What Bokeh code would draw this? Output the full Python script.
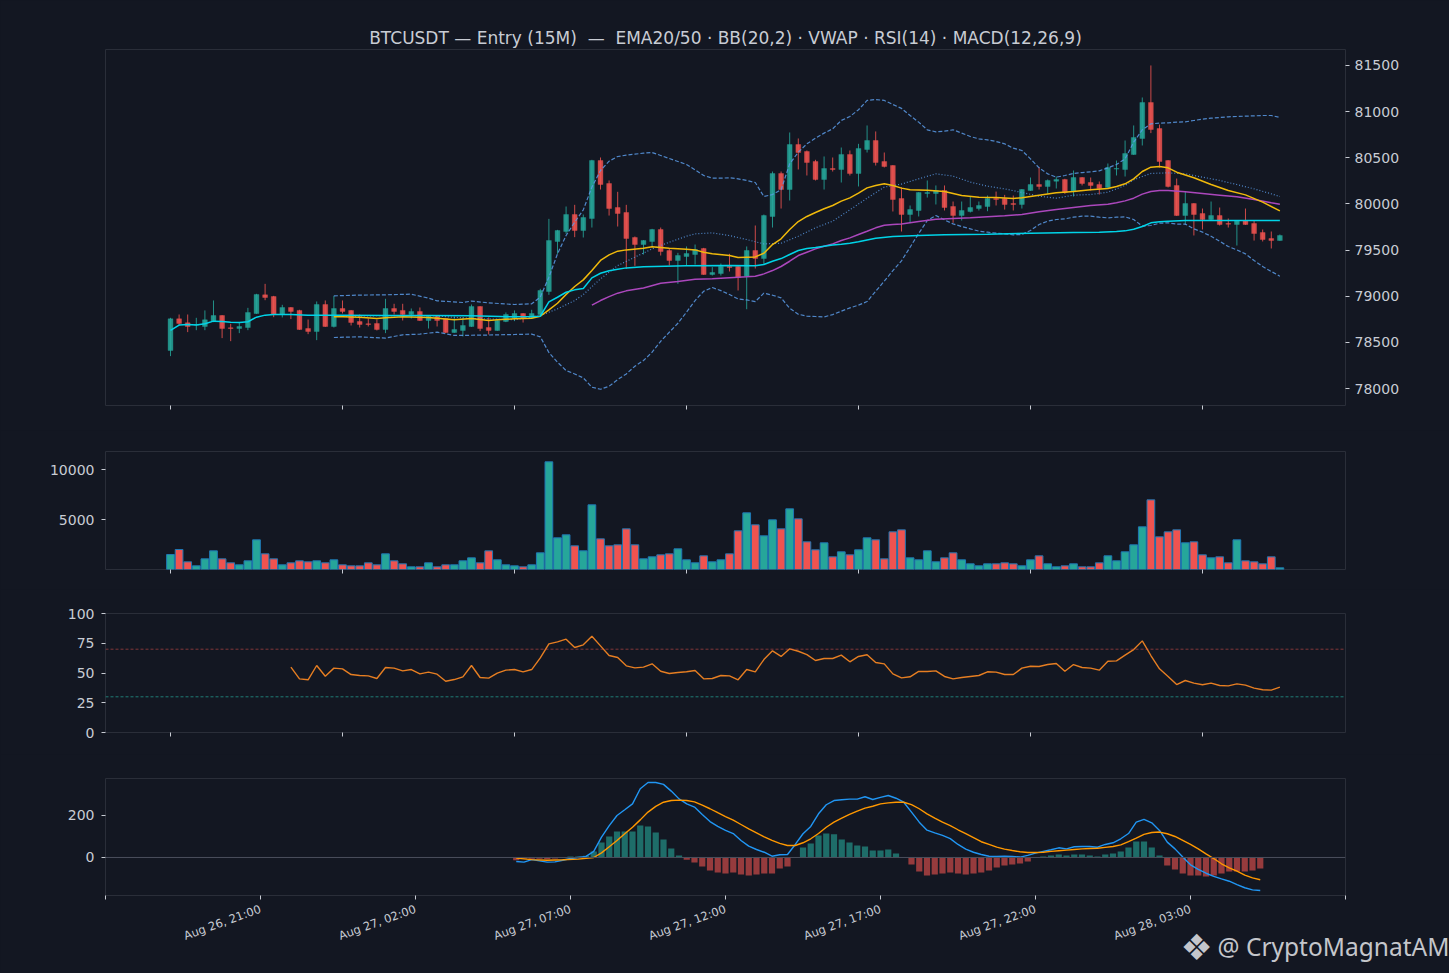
from bokeh.plotting import figure
from bokeh.layouts import column
from bokeh.models import Range1d, FixedTicker, Title, Span, Label
from bokeh.embed import file_html
from bokeh.resources import INLINE

TITLE = "BTCUSDT \u2014 Entry (15M)\u00a0\u00a0\u2014\u00a0\u00a0EMA20/50 \u00b7 BB(20,2) \u00b7 VWAP \u00b7 RSI(14) \u00b7 MACD(12,26,9)"
WATERMARK_LOGO = "\u2756"
WATERMARK = "@ CryptoMagnatAM"
TIME_LABELS = {0: "", 20: "Aug 26, 21:00", 40: "Aug 27, 02:00", 60: "Aug 27, 07:00", 80: "Aug 27, 12:00",
               100: "Aug 27, 17:00", 120: "Aug 27, 22:00", 140: "Aug 28, 03:00", 160: ""}

OPEN = [78412,78755,78712,78687,78672,78730,78791,78658,78650,78661,78813,79015,78997,78802,78878,78846,78650,78618,78910,78672,
        78867,78846,78726,78701,78705,78640,78867,78846,78802,78835,78737,78780,78759,78607,78629,78672,78889,78661,78629,78726,
        78766,78813,78766,78802,79051,79593,79701,79885,79712,79842,80470,80221,79961,79907,79636,79560,79593,79723,79495,79387,
        79430,79452,79517,79235,79246,79322,79322,79213,79495,79409,79864,80330,80156,80644,80568,80460,80265,80384,80373,80536,
        80330,80590,80687,80460,80416,80059,79885,79929,80113,80113,80145,79972,79874,79918,79950,79972,80059,80059,80004,79994,
        80145,80210,80189,80246,80265,80134,80286,80232,80210,80178,80377,80373,80535,80709,81099,80817,80470,80200,79874,80004,
        79896,79831,79874,79788,79777,79820,79788,79690,79625,79603]
HIGH = [78766,78802,78802,78766,78846,78954,78795,78701,78715,78874,79026,79134,79004,78907,78882,78853,78748,78943,78954,79004,
        78954,78850,78802,78759,78748,78972,78918,78918,78867,78878,78784,78784,78763,78780,78770,78910,78893,78770,78755,78824,
        78846,78817,78853,79080,79838,79719,79972,79990,79885,80478,80503,80254,80131,79990,79647,79608,79730,79744,79513,79470,
        79539,79560,79524,79315,79354,79459,79333,79539,79766,79885,80351,80351,80774,80709,80579,80478,80514,80503,80611,80579,
        80651,80850,80785,80557,80420,80181,79983,80128,80254,80200,80200,80026,80026,80080,80026,80091,80134,80098,80091,80160,
        80286,80398,80265,80297,80272,80362,80290,80286,80243,80438,80470,80687,80850,81153,81500,80860,80474,80275,80134,80008,
        79950,80026,79961,79842,79824,79950,79820,79723,79701,79669]
LOW = [78351,78683,78611,78632,78632,78719,78546,78513,78600,78632,78809,78957,78773,78770,78752,78636,78589,78524,78668,78661,
       78813,78683,78661,78672,78629,78600,78802,78737,78759,78733,78650,78672,78603,78603,78564,78668,78622,78585,78625,78719,
       78730,78715,78762,78791,79015,79459,79676,79640,79636,79744,80156,79874,79755,79297,79329,79452,79539,79441,79333,79134,
       79333,79343,79231,79224,79224,79268,79062,78859,79300,79343,79744,79950,80037,80373,80308,80254,80156,80351,80232,80308,
       80189,80557,80416,80395,79918,79701,79795,79864,80069,79994,79929,79795,79820,79907,79929,79921,79983,79939,79929,79950,
       80141,80156,80109,80167,80109,80080,80200,80145,80102,80174,80308,80297,80531,80633,80767,80395,80178,79870,79777,79658,
       79723,79820,79766,79744,79549,79773,79603,79593,79517,79600]
CLOSE = [78755,78705,78672,78694,78744,78791,78650,78650,78672,78824,79019,78986,78802,78878,78835,78640,78618,78910,78672,78867,
         78835,78715,78694,78694,78640,78867,78835,78802,78835,78737,78780,78737,78607,78640,78683,78889,78650,78629,78737,78802,
         78813,78759,78813,79062,79604,79712,79885,79712,79853,80470,80210,79950,79896,79625,79560,79604,79723,79484,79387,79441,
         79463,79506,79235,79257,79322,79311,79203,79495,79409,79874,80330,80156,80644,80557,80449,80265,80384,80373,80536,80330,
         80601,80687,80449,80405,80048,79885,79939,80124,80124,80145,79961,79874,79929,79961,79983,80059,80048,79994,79994,80156,
         80210,80189,80254,80265,80124,80286,80221,80200,80167,80395,80384,80546,80720,81099,80806,80460,80189,79874,80004,79885,
         79831,79874,79777,79781,79820,79777,79679,79614,79603,79658]
VOLUME = [1500,2000,767,367,1067,1867,1067,667,467,867,2967,1567,1067,467,667,867,767,867,667,967,
          467,367,367,667,467,1567,867,567,267,267,667,267,467,467,867,1167,667,1867,967,467,
          367,267,467,1667,10767,3167,3467,2367,1867,6467,3067,2367,2467,4067,2467,1067,1267,1467,1567,2067,
          967,667,1367,767,967,1567,3867,5667,4467,3367,4967,4067,6067,5067,2767,1967,2667,1267,1767,1467,
          1967,3167,2967,1067,3767,3967,1167,967,1867,767,1167,1667,967,567,367,567,567,667,567,367,
          967,1367,567,267,367,567,267,267,667,1367,867,1767,2467,4267,6967,3267,3767,3967,2667,2767,
          1467,1167,1267,667,2967,867,767,567,1267,167]

VWAP_X = [0,1,2,3,4,5,6,7,8,9,10,11,12,14,16,20,25,30,35,40,42,43,44,45,46,47,48,49,50,51,52,53,55,60,65,68,69,70,71,72,73,74,75,76,
          77,78,79,80,81,82,84,87,90,95,100,105,108,110,111,112,113,114,115,116,118,129]
VWAP = [78629,78687,78694,78687,78701,78730,78726,78719,78715,78723,78773,78795,78802,78802,78795,78795,78791,78791,78788,78777,78780,
        78783,78939,78989,79043,79069,79083,79199,79249,79275,79293,79307,79318,79329,79332,79329,79343,79379,79408,79452,79495,79517,
        79527,79542,79556,79564,79574,79589,79610,79629,79647,79657,79665,79672,79683,79690,79694,79701,79708,79726,79755,79795,79806,
        79813,79820,79820]
EMA20_X = [19,20,22,24,25,27,30,33,35,37,38,40,42,43,44,45,46,47,48,49,50,51,52,53,55,56,58,60,61,62,63,65,66,67,68,69,70,71,72,73,74,
           75,76,77,78,79,80,81,82,83,84,85,86,88,90,92,94,96,98,99,101,103,105,107,109,110,111,112,113,114,115,116,117,119,121,123,125,127,129]
EMA20 = [78777,78777,78773,78759,78766,78777,78770,78744,78759,78737,78744,78755,78762,78783,78852,78924,79018,79105,79177,79278,79387,
         79448,79488,79502,79520,79535,79520,79509,79502,79477,79459,79441,79419,79423,79426,79466,79560,79622,79723,79809,79864,79907,
         79947,79983,80030,80066,80116,80174,80200,80218,80200,80171,80153,80149,80134,80091,80073,80069,80059,80066,80095,80120,80134,
         80153,80167,80189,80218,80272,80351,80398,80405,80391,80344,80283,80210,80145,80098,80019,79925]
EMA50_X = [49,50,51,52,53,55,57,59,61,63,65,67,68,69,70,71,72,73,74,75,76,77,78,79,80,81,82,83,84,85,87,89,91,93,95,97,99,101,103,105,
           107,109,110,111,112,113,114,115,116,118,120,122,124,126,128,129]
EMA50 = [78903,78953,78996,79033,79058,79090,79141,79159,79184,79188,79199,79210,79217,79242,79278,79322,79379,79441,79477,79513,79542,
         79567,79603,79632,79668,79704,79741,79769,79777,79782,79809,79835,79842,79849,79860,79871,79885,79914,79939,79961,79983,79997,
         80012,80033,80062,80106,80134,80145,80145,80131,80113,80095,80077,80048,80012,79997]
BB_UP_X = [19,22,25,28,30,31,34,35,37,40,42,43,44,45,46,47,48,49,50,51,52,53,54,55,56,57,58,59,60,61,62,63,64,65,66,67,68,69,70,71,72,
           73,74,75,76,77,78,79,80,81,82,83,84,85,86,87,88,89,90,91,92,93,94,95,96,97,98,99,100,101,102,103,104,105,106,107,108,109,110,
           111,112,113,114,115,116,117,118,119,120,121,122,123,124,125,126,127,128,129]
BB_UP = [79004,79012,79015,79022,78979,78950,78932,78947,78928,78910,78918,78990,79206,79459,79658,79802,79936,80182,80362,80463,80514,
         80528,80539,80550,80557,80525,80492,80460,80427,80369,80308,80279,80279,80283,80272,80254,80232,80080,80102,80153,80434,80561,
         80651,80712,80767,80814,80904,80947,81020,81121,81131,81121,81077,81035,80958,80886,80803,80781,80788,80803,80767,80730,80705,
         80694,80676,80651,80604,80579,80488,80391,80326,80290,80308,80330,80340,80348,80358,80391,80427,80488,80669,80803,80868,80875,
         80879,80886,80889,80904,80918,80929,80936,80944,80947,80951,80954,80958,80958,80936]
BB_MID_X = [19,25,30,35,40,43,45,47,48,50,52,54,56,58,60,61,63,65,67,69,71,73,75,77,79,81,83,85,87,89,91,93,95,97,99,101,103,105,107,109,
            111,112,113,114,116,118,120,122,124,126,128,129]
BB_MID = [78780,78790,78790,78760,78745,78790,78863,78953,79018,79188,79332,79423,79513,79585,79650,79676,79686,79657,79614,79567,79574,
          79650,79741,79813,79936,80062,80182,80215,80272,80326,80301,80236,80192,80163,80124,80084,80062,80095,80102,80127,80200,80261,
          80297,80330,80337,80326,80290,80254,80210,80163,80109,80080]
BB_LOW_X = [19,22,25,27,29,31,33,36,40,42,43,44,45,46,47,48,49,50,51,52,53,54,55,56,57,58,59,60,61,62,63,64,65,66,67,68,69,70,71,72,73,
            74,75,76,77,78,79,80,81,82,83,84,85,86,87,88,89,90,91,92,93,94,95,96,97,98,99,100,101,102,103,104,105,106,107,108,109,110,111,
            112,113,114,115,116,117,118,119,120,121,122,123,124,125,126,127,128,129]
BB_LOW = [78553,78560,78546,78582,78589,78611,78575,78578,78585,78590,78560,78390,78285,78195,78158,78115,78014,77992,78025,78097,78158,
          78242,78303,78393,78512,78610,78707,78827,78953,79054,79094,79061,79018,78971,78960,78942,79033,79011,78982,78870,78805,78783,
          78780,78776,78801,78838,78874,78903,78942,79054,79163,79278,79383,79531,79680,79820,79874,79827,79784,79755,79730,79705,79694,
          79683,79676,79665,79669,79712,79777,79813,79831,79838,79856,79867,79867,79856,79849,79856,79860,79831,79759,79766,79791,79795,
          79781,79781,79730,79694,79650,79596,79538,79502,79459,79387,79322,79268,79217]
RSI = [54.9,45.1,44.3,56.3,47.3,54.1,53.5,48.7,47.9,47.6,45.4,54.6,54.1,51.8,52.9,49.3,50.7,49.0,43.1,44.5,46.8,56.3,46.2,45.7,49.9,
       52.4,52.9,51.0,52.9,62.7,74.5,76.2,78.4,71.4,73.7,80.9,72.8,64.7,63.0,56.0,54.3,54.9,57.7,51.5,49.6,50.4,51.0,52.1,45.1,45.4,
       47.9,47.6,44.3,52.9,51.0,61.3,68.6,63.9,70.3,68.3,65.5,60.5,62.2,62.2,65.0,59.4,63.9,65.3,58.8,57.7,49.3,45.9,46.8,51.3,51.3,
       51.8,47.1,45.1,46.2,47.1,47.9,51.0,50.7,48.7,48.7,54.1,55.7,55.5,57.1,58.0,51.5,57.1,54.6,54.1,52.4,59.9,60.2,65.0,69.7,77.0,
       64.7,53.5,47.1,40.3,43.7,41.5,40.1,41.5,39.5,39.2,40.9,39.8,37.3,35.9,35.6,38.1]
MACD_LINE = [-19,-22,-10,-16,-22,-21,-13,-5,0,5,29,97,152,200,227,255,327,357,357,348,316,279,255,240,205,171,148,129,114,81,54,38,25,6,
             13,14,62,113,148,208,251,271,275,278,278,289,276,286,295,282,263,216,168,130,117,105,90,62,40,25,14,6,5,6,5,2,10,21,29,37,
             46,41,51,52,52,49,62,70,89,114,168,181,165,129,73,41,2,-35,-57,-75,-90,-102,-113,-129,-144,-154,-157]
SIGNAL_X = [33,35,37,39,41,43,44,45,46,47,48,49,50,51,52,53,54,55,56,57,58,59,60,61,62,63,64,65,66,67,68,69,70,71,72,73,74,75,76,77,78,
            79,80,81,82,83,84,85,86,87,88,89,90,91,92,93,94,95,96,97,98,99,100,101,102,103,104,105,106,107,108,109,110,111,112,113,114,
            115,116,117,118,119,120,121,122,123,124,125,126,127,128,129]
SIGNAL = [-3,-10,-13,-11,-8,0,22,51,81,113,144,179,216,243,263,271,273,271,265,249,232,213,195,178,157,136,117,98,81,67,57,57,70,89,114,
          144,168,187,205,221,235,244,255,260,263,263,252,232,208,187,168,152,132,113,94,75,62,49,40,33,27,24,24,25,29,32,35,38,41,43,44,
          48,52,60,75,92,110,119,121,113,100,81,62,41,17,-5,-30,-49,-65,-84,-97,-106]
MACD_HIST = [-13,-5,-6,-6,-8,-5,-2,5,5,8,29,71,100,124,124,124,152,148,119,86,43,10,-11,-24,-43,-62,-71,-76,-71,-81,-86,-81,-76,-76,-52,
             -43,-2,48,67,105,114,110,86,71,57,52,33,33,38,19,0,-33,-67,-86,-81,-76,-71,-76,-81,-76,-71,-62,-48,-38,-33,-29,-19,-3,5,10,
             14,10,14,14,10,5,14,19,29,48,76,76,48,10,-38,-57,-76,-86,-86,-90,-86,-76,-67,-67,-67,-62,-52]

BG = "#131722"
FRAME = "#2a2e39"
TEXT = "#c8ccd4"
UP = "#26a69a"
DOWN = "#ef5350"
FONT = "DejaVu Sans"
N = len(CLOSE)
IDX = list(range(N))
MACD_START = N - len(MACD_LINE)
CANDLE_TICKS = list(range(0, 121, 20))
PANEL_TICKS = list(range(0, 161, 20))
CANDLE_XRANGE = (-7.558, 136.63)


def panel(frame_h, top, bottom, y_range, y_ticks, x_range, x_ticks, side="left"):
    p = figure(frame_width=1240, frame_height=frame_h, x_range=Range1d(*x_range), y_range=Range1d(*y_range),
               y_axis_location=side, output_backend="svg", toolbar_location=None,
               background_fill_color=BG, border_fill_color=BG,
               min_border_left=105, min_border_right=103, min_border_top=top, min_border_bottom=bottom)
    p.grid.visible = False
    p.outline_line_color = FRAME
    p.outline_line_width = 1
    for ax in [p.xaxis[0], p.yaxis[0]]:
        ax.axis_line_color = None
        ax.major_tick_line_color = TEXT
        ax.major_tick_line_width = 1
        ax.major_tick_in = 0
        ax.major_tick_out = 4
        ax.minor_tick_line_color = None
        ax.major_label_text_color = TEXT
        ax.major_label_text_font = FONT
    p.yaxis[0].ticker = FixedTicker(ticks=y_ticks)
    p.yaxis[0].major_label_text_font_size = "14px"
    p.yaxis[0].major_label_standoff = 5 if side == "right" else 7
    p.xaxis[0].ticker = FixedTicker(ticks=x_ticks)
    p.xaxis[0].major_label_overrides = {t: "" for t in x_ticks}
    p.xaxis[0].major_label_text_font_size = "10px"
    p.xaxis[0].major_label_standoff = 0
    return p


# price panel
p1 = panel(356, 49, 25, (77816, 81673), list(range(78000, 81501, 500)), CANDLE_XRANGE, CANDLE_TICKS, side="right")
p1.add_layout(Title(text=TITLE, align="center", text_color=TEXT, text_font=FONT, text_font_size="17px",
                    text_font_style="normal", standoff=4), "above")
up_idx = [i for i in IDX if CLOSE[i] >= OPEN[i]]
dn_idx = [i for i in IDX if CLOSE[i] < OPEN[i]]
for idx, col in ((up_idx, UP), (dn_idx, DOWN)):
    p1.segment([i for i in idx], [HIGH[i] for i in idx], [i for i in idx], [LOW[i] for i in idx],
               line_color=col, line_width=1, line_alpha=0.85)
    p1.vbar([i for i in idx], 0.56, [max(OPEN[i], CLOSE[i]) for i in idx], [min(OPEN[i], CLOSE[i]) for i in idx],
            fill_color=col, fill_alpha=0.88, line_color=col, line_alpha=0.88, line_width=0.4)
p1.line(BB_UP_X, BB_UP, line_color="#5b9be8", line_width=1.2, line_dash="4 2", line_alpha=0.85)
p1.line(BB_LOW_X, BB_LOW, line_color="#5b9be8", line_width=1.2, line_dash="4 2", line_alpha=0.85)
p1.line(BB_MID_X, BB_MID, line_color="#5b9be8", line_width=1.2, line_dash="1 2", line_alpha=0.85)
p1.line(EMA50_X, EMA50, line_color="#ab47bc", line_width=1.5)
p1.line(EMA20_X, EMA20, line_color="#f0b90b", line_width=1.5)
p1.line(VWAP_X, VWAP, line_color="#00d4e8", line_width=1.5)

# volume panel
p2 = panel(118, 21, 20, (0, 11800), [5000, 10000], CANDLE_XRANGE, CANDLE_TICKS)
p2.vbar(IDX, 0.9, VOLUME, 0, fill_color=[UP if CLOSE[i] >= OPEN[i] else DOWN for i in IDX],
        line_color="#1f77b4", line_width=1)

# RSI panel
p3 = panel(119, 24, 22, (0, 100), [0, 25, 50, 75, 100], CANDLE_XRANGE, CANDLE_TICKS)
p3.add_layout(Span(location=70, dimension="width", line_color=DOWN, line_alpha=0.5, line_width=1, line_dash="3 2"))
p3.add_layout(Span(location=30, dimension="width", line_color=UP, line_alpha=0.7, line_width=1, line_dash="3 2"))
p3.line(IDX[N - len(RSI):], RSI, line_color="#e67e22", line_width=1.4)

# MACD panel
p4 = panel(117, 24, 77, (-181, 376), [0, 200], (0, 160), PANEL_TICKS)
ax = p4.xaxis[0]
ax.major_label_overrides = TIME_LABELS
ax.major_label_orientation = 0.349
ax.major_label_text_font_size = "11.5px"
ax.major_label_standoff = 9
macd_x = [i + 20 for i in IDX[MACD_START:]]
p4.add_layout(Span(location=0, dimension="width", line_color="#4b4f5c", line_width=1))
p4.vbar(macd_x, 0.8, MACD_HIST, 0, fill_color=[UP if v >= 0 else DOWN for v in MACD_HIST], fill_alpha=0.6, line_color=None)
p4.line(macd_x, MACD_LINE, line_color="#2196f3", line_width=1.4)
p4.line([i + 20 for i in SIGNAL_X], SIGNAL, line_color="#ff9800", line_width=1.4)

# transparent watermark layer laid over the bottom margin
p5 = figure(frame_width=1449, frame_height=40, x_range=Range1d(0, 1), y_range=Range1d(0, 1),
            x_axis_type=None, y_axis_type=None, output_backend="svg", toolbar_location=None,
            background_fill_alpha=0, border_fill_alpha=0, outline_line_color=None,
            min_border=0, margin=(-40, 0, 0, 0))
p5.add_layout(Label(x=1075, y=5, x_units="screen", y_units="screen", text=WATERMARK_LOGO, text_color="#c4c6cb",
                    text_font="DejaVu Sans", text_font_size="36px"))
p5.add_layout(Label(x=1112, y=10, x_units="screen", y_units="screen", text=WATERMARK, text_color="#c4c6cb",
                    text_font="Noto Sans", text_font_size="24.5px"))

layout = column(p1, p2, p3, p4, p5, spacing=0)
html = file_html(layout, INLINE)
html = html.replace("<head>", "<head><style>html,body{background:#131722;margin:0}</style>", 1)
open("out.html", "w").write(html)
